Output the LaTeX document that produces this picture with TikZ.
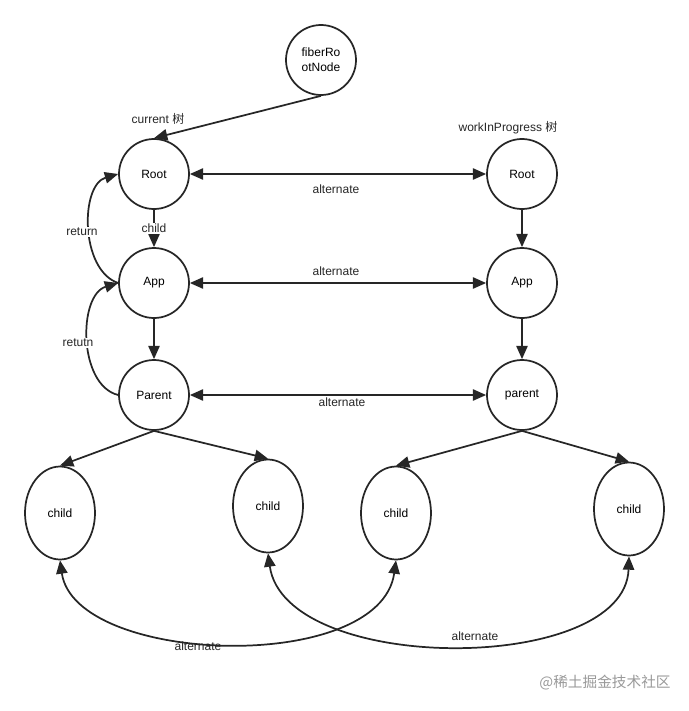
\documentclass[tikz,border=0pt]{standalone}
\usepackage{fontspec}
\setmainfont{Liberation Sans}
\newfontfamily\cjk{Noto Sans CJK SC}
\usetikzlibrary{arrows.meta,shapes.geometric}
\begin{document}
\begin{tikzpicture}[x=0.75pt,y=-0.75pt,
  circ/.style={draw=black!85,line width=1.3pt,circle,minimum size=70*0.75pt,inner sep=0pt,font=\fontsize{9}{11}\selectfont,align=center},
  ell/.style={draw=black!85,line width=1.3pt,ellipse,minimum width=70*0.75pt,minimum height=93*0.75pt,inner sep=0pt,font=\fontsize{9}{11}\selectfont},
  con/.style={draw=black!85,line width=1.3pt,-{Triangle[length=10pt,width=8.5pt]}},
  dcon/.style={draw=black!85,line width=1.3pt,{Triangle[length=10pt,width=8.5pt]}-{Triangle[length=10pt,width=8.5pt]}},
  lbl/.style={font=\fontsize{9}{11}\selectfont,text=black!85,inner sep=1pt}]
\useasboundingbox (0,0) rectangle (689,711);
\node[circ] (fr) at (321,60) {fiberRo\\otNode};
\node[circ] (r1) at (154,174) {Root};
\node[circ] (a1) at (154,283) {App};
\node[circ] (p1) at (154,395) {Parent};
\node[circ] (r2) at (522,174) {Root};
\node[circ] (a2) at (522,283) {App};
\node[circ] (p2) at (522,395) {parent};
\node[ell] (c1) at (60,513) {child};
\node[ell] (c2) at (268,506) {child};
\node[ell] (c3) at (396,513) {child};
\node[ell] (c4) at (629,509) {child};
\draw[con] (fr.south) -- (r1.north);
\node[lbl] (cur) at (158,119) {current {\cjk 树}};
\node[lbl] (wip) at (508,128) {workInProgress {\cjk 树}};
\draw[con] (r1) -- (a1) node[midway,fill=white,lbl] {child};
\draw[con] (a1) -- (p1);
\draw[con] (r2) -- (a2);
\draw[con] (a2) -- (p2);
\draw[dcon] (r1) -- (r2);
\draw[dcon] (a1) -- (a2);
\draw[dcon] (p1) -- (p2);
\node[lbl] at (336,189) {alternate};
\node[lbl] at (336,271) {alternate};
\node[lbl] at (342,402) {alternate};
\draw[con] (a1.west) .. controls (80,270) and (80,185) .. (r1.west);
\draw[con] (p1.west) .. controls (78,385) and (78,295) .. (a1.west);
\node[lbl,fill=white] at (82,232) {return};
\node[lbl,fill=white] at (78,343) {retutn};
\draw[con] (p1.south) -- (c1.north);
\draw[con] (p1.south) -- (c2.north);
\draw[con] (p2.south) -- (c3.north);
\draw[con] (p2.south) -- (c4.north);
\draw[dcon] (c1.south) .. controls (75,665) and (380,675) .. (c3.south);
\draw[dcon] (c2.south) .. controls (285,675) and (625,675) .. (c4.south);
\node[lbl] at (198,646) {alternate};
\node[lbl] at (475,636) {alternate};
\node[font=\cjk\fontsize{11}{13}\selectfont,text=black!40] at (605,683) {@稀土掘金技术社区};
\end{tikzpicture}
\end{document}
